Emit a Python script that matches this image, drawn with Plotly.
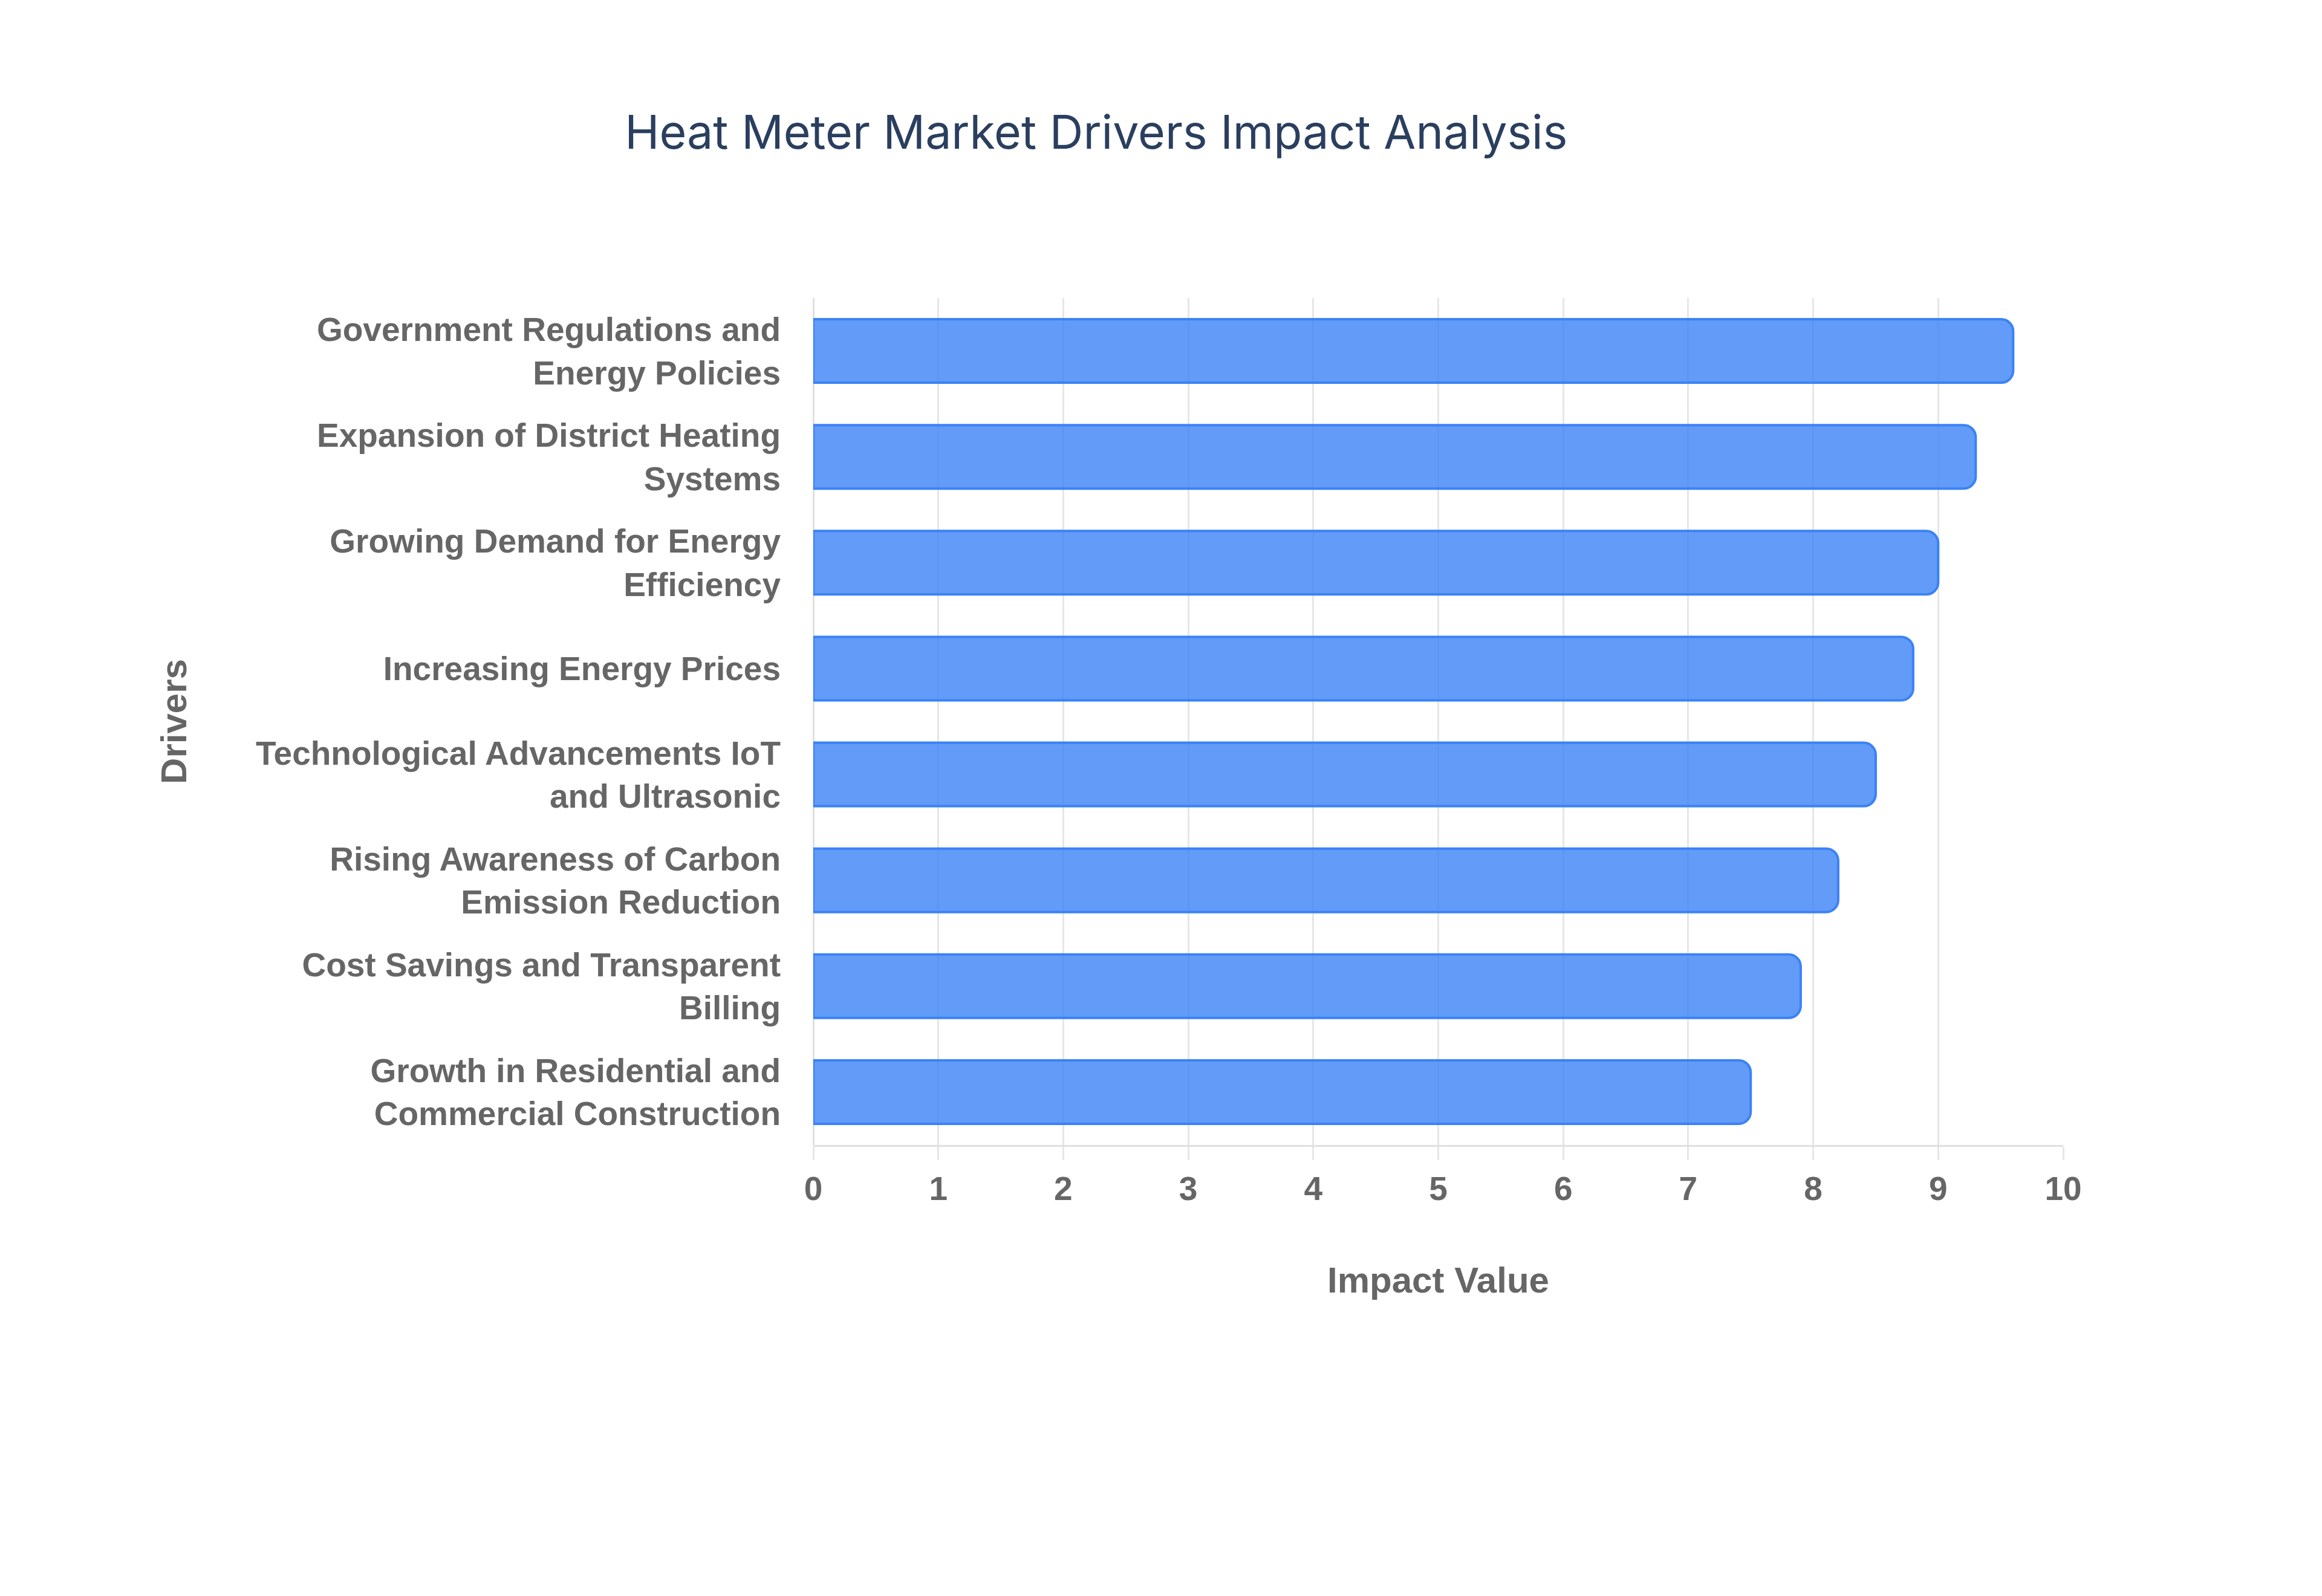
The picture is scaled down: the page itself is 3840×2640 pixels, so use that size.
import plotly.graph_objects as go

drivers = [
    "Growth in Residential and<br>Commercial Construction",
    "Cost Savings and Transparent<br>Billing",
    "Rising Awareness of Carbon<br>Emission Reduction",
    "Technological Advancements IoT<br>and Ultrasonic",
    "Increasing Energy Prices",
    "Growing Demand for Energy<br>Efficiency",
    "Expansion of District Heating<br>Systems",
    "Government Regulations and<br>Energy Policies",
]
impact = [7.5, 7.9, 8.2, 8.5, 8.8, 9.0, 9.3, 9.6]
x_ticks = list(range(0, 11))

fig = go.Figure(go.Bar(
    x=impact,
    y=drivers,
    orientation='h',
    marker=dict(
        color='rgba(59,130,246,0.8)',
        line=dict(color='#3b82f6', width=4),
        cornerradius=20,
    ),
))

fig.update_layout(
    width=3840,
    height=2640,
    plot_bgcolor='white',
    paper_bgcolor='white',
    bargap=0.4,
    showlegend=False,
    title=dict(
        text='Heat Meter Market Drivers Impact Analysis',
        x=0.47, xanchor='center', y=0.92, yanchor='middle',
        font=dict(family='Inter, Arial', size=77, color='#2a3f5f'),
    ),
    margin=dict(l=1337, r=436, t=485, b=754),
    font=dict(family='Liberation Sans, Arial', color='#666666'),
)

fig.update_xaxes(
    title=dict(text='<b>Impact Value</b>', font=dict(size=60, color='#666666'), standoff=100),
    range=[0, 10],
    tickvals=x_ticks,
    ticktext=['<b>%d</b>' % v for v in x_ticks],
    tickfont=dict(size=55, color='#666666'),
    showgrid=True, gridcolor='#e6e6e6', gridwidth=3,
    ticks='outside', ticklen=22, tickwidth=3, tickcolor='#e6e6e6',
    showline=True, linecolor='#e0e0e0', linewidth=3,
    zeroline=True, zerolinecolor='#e0e0e0', zerolinewidth=3,
    automargin=False,
)

fig.update_yaxes(
    title=dict(text='<b>Drivers</b>', font=dict(size=60, color='#666666'), standoff=95),
    tickvals=drivers,
    ticktext=['<b>%s</b>' % d for d in drivers],
    tickfont=dict(size=55, color='#666666'),
    ticks='outside', ticklen=42, tickcolor='white',
    showgrid=False,
    automargin=False,
)

fig.write_html("out.html")
